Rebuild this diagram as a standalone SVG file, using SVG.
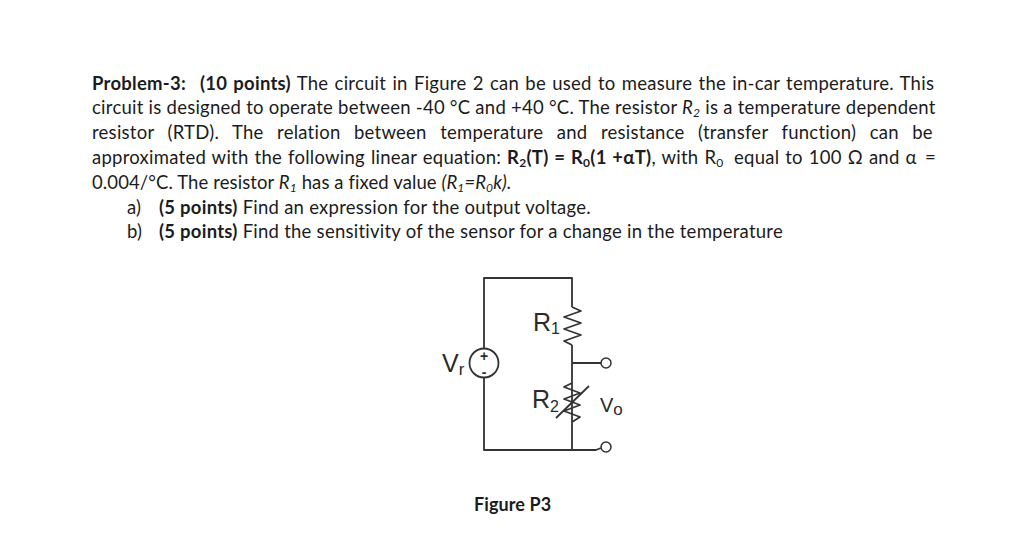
<svg xmlns="http://www.w3.org/2000/svg" width="1024" height="552" viewBox="0 0 1024 552">
<style>
text{font-family:"Lato","Open Sans","Liberation Sans",sans-serif;font-size:18.500px;letter-spacing:.25px;fill:#1c1c1c}
.b{font-weight:700}.i{font-style:italic}
.s{font-size:12px}
.c{font-family:"Liberation Sans",Arial,sans-serif;fill:#2b2b2b;letter-spacing:0}
.w{fill:none;stroke:#333;stroke-width:1.800;stroke-linejoin:round}
.t{fill:none;stroke:#333;stroke-width:1.500;stroke-linejoin:round}
</style>
<rect width="1024" height="552" fill="#fff"/>
<g id="problem-text">
<text x="92" y="89.500" style="word-spacing:1.300px"><tspan class="b">Problem-3:</tspan><tspan class="b" x="200">(10 points)</tspan> The circuit in Figure 2 can be used to measure the in-car temperature. This</text>
<text x="92" y="114" style="word-spacing:0">circuit is designed to operate between -40 °C and +40 °C. The resistor <tspan class="i">R</tspan><tspan class="i s" dy="3">2</tspan><tspan dy="-3"> is a temperature dependent</tspan></text>
<text x="92" y="138.500" style="word-spacing:8.500px">resistor (RTD). The relation between temperature and resistance (transfer function) can be</text>
<text x="92" y="163.500" style="word-spacing:1px">approximated with the following linear equation: <tspan class="b">R</tspan><tspan class="b s" dy="3">2</tspan><tspan class="b" dy="-3">(T) = R</tspan><tspan class="b s" dy="3">0</tspan><tspan class="b" dy="-3">(1 +αT)</tspan>, with R<tspan class="s" dy="3">0</tspan><tspan x="734" dy="-3">equal to 100 Ω and α</tspan><tspan x="925">=</tspan></text>
<text x="92" y="188.500" style="letter-spacing:.1px">0.004/°C. The resistor <tspan class="i">R</tspan><tspan class="i s" dy="3">1</tspan><tspan dy="-3"> has a fixed value </tspan><tspan class="i">(R</tspan><tspan class="i s" dy="3">1</tspan><tspan class="i" dy="-3">=R</tspan><tspan class="i s" dy="3">0</tspan><tspan class="i" dy="-3">k).</tspan></text>
<text x="127" y="213.500">a)</text>
<text x="159" y="213.500"><tspan class="b">(5 points)</tspan> Find an expression for the output voltage.</text>
<text x="127" y="237.500">b)</text>
<text x="159" y="237.500"><tspan class="b">(5 points)</tspan> Find the sensitivity of the sensor for a change in the temperature</text>
</g>
<g id="connectors">
<path class="w" d="M484 348V278H572V307M572 345V450H484V378M572 363H601M572 450H596L601 448"/>
</g>
<g id="source-vr">
<circle class="w" cx="484" cy="363" r="14.500"/>
<text class="c" x="484" y="361" text-anchor="middle" style="font-size:14px;font-weight:700">+</text>
<text class="c" x="484" y="377" text-anchor="middle" style="font-size:14px;font-weight:700">-</text>
<text class="c" x="442" y="372" style="font-size:25px">V<tspan dy="3" style="font-size:17px">r</tspan></text>
</g>
<g id="resistor-r1">
<path class="w" d="M572 307L581 311L564 317L581 323L564 329L581 335L564 341L572 345"/>
<text class="c" x="533" y="331" style="font-size:25px">R<tspan dy="3" style="font-size:16px">1</tspan></text>
</g>
<g id="resistor-r2">
<path class="w" d="M572 383L564 387L580 393L564 399L580 405L564 411L580 417L572 422M556 418L589 386"/>
<text class="c" x="532" y="408" style="font-size:25px">R<tspan dy="4" style="font-size:16px">2</tspan></text>
</g>
<g id="terminals">
<circle class="t" cx="606" cy="363" r="5"/>
<circle class="t" cx="606" cy="447" r="5"/>
<text class="c" x="600" y="412" style="font-size:20px">V<tspan dy="3" style="font-size:17px">o</tspan></text>
</g>
<text class="b" x="474" y="511" style="font-size:18px;letter-spacing:.1px">Figure P3</text>
</svg>
